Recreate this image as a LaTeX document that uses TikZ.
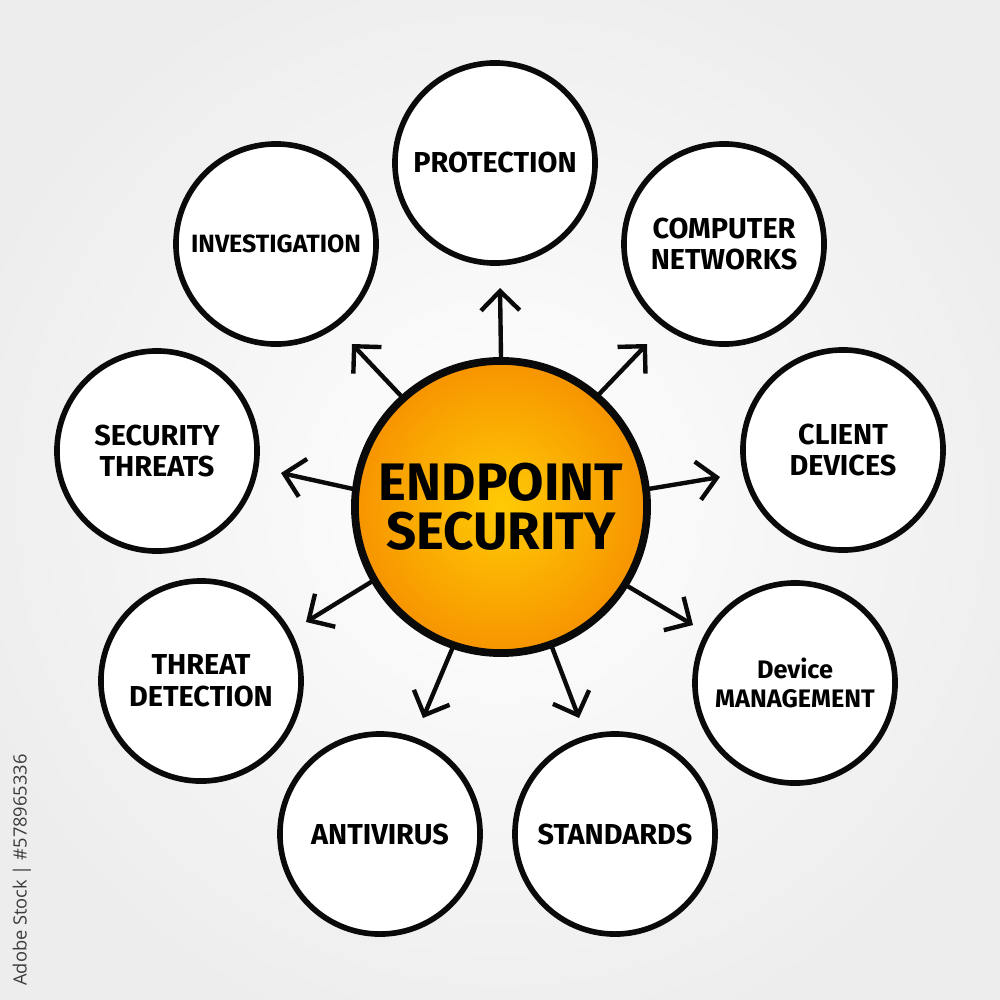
\documentclass[tikz,border=0pt]{standalone}
\usepackage{fontspec}
\setmainfont{Fira Sans}
\newfontfamily\wmfont{Open Sans}
\usetikzlibrary{arrows.meta}
\definecolor{ringcol}{HTML}{0A0A0A}
\definecolor{coreY}{HTML}{FFCB05}
\definecolor{coreO}{HTML}{F79400}
\definecolor{wmgray}{HTML}{3C3C3C}
\tikzset{
  outerbox/.style={circle, draw=ringcol, line width=1.6pt, fill=white, minimum size=2cm, inner sep=0pt,
    align=center, font=\fontsize{8.2}{9}\selectfont\bfseries},
  corebox/.style={circle, draw=ringcol, line width=2.2pt, minimum size=2.92cm, inner sep=0pt,
    align=center, inner color=coreY, outer color=coreO, font=\fontsize{15}{14}\selectfont\bfseries},
  arr/.style={draw=ringcol, line width=1.25pt, line cap=round, line join=round,
    -{Straight Barb[length=5.5pt,width=11pt,line width=1.25pt]}},
  wm/.style={font=\wmfont\fontsize{5.2}{6}\selectfont, text=wmgray, rotate=90}
}
\begin{document}
\begin{tikzpicture}[x=0.01cm,y=-0.01cm]
\useasboundingbox (0,0) rectangle (1000,1000);
\shade[inner color=white, outer color=black!7] (-60,-60) rectangle (1060,1060);

% center
\node[corebox] (core) at (501,507) {ENDPOINT\\SECURITY};

% outer nodes
\node[outerbox] (prot) at (495,163) {PROTECTION};
\node[outerbox, font=\fontsize{7.1}{8}\selectfont\bfseries] (inv)  at (276,244) {INVESTIGATION};
\node[outerbox] (net)  at (724,244) {COMPUTER\\NETWORKS};
\node[outerbox] (thr)  at (157,451) {SECURITY\\THREATS};
\node[outerbox] (cli)  at (843,450) {CLIENT\\DEVICES};
\node[outerbox] (det)  at (201,681) {THREAT\\DETECTION};
\node[outerbox, font=\fontsize{7.2}{8.4}\selectfont\bfseries] (dev) at (795,683) {Device\\MANAGEMENT};
\node[outerbox] (av)   at (380,834) {ANTIVIRUS};
\node[outerbox] (std)  at (615,834) {STANDARDS};

% arrow ends
\coordinate (eUp) at (500,288);
\coordinate (eUL) at (352,344);
\coordinate (eUR) at (647,344);
\coordinate (eL)  at (281,473);
\coordinate (eR)  at (720,477);
\coordinate (eLL) at (306,622);
\coordinate (eLR) at (693,625);
\coordinate (eDL) at (423,718);
\coordinate (eDR) at (579,718);

\draw[arr] (core.90) -- (eUp);
\draw[arr] (core.132) -- (eUL);
\draw[arr] (core.49) -- (eUR);
\draw[arr] (core.173) -- (eL);
\draw[arr] (core.7) -- (eR);
\draw[arr] (core.210) -- (eLL);
\draw[arr] (core.328) -- (eLR);
\draw[arr] (core.251) -- (eDL);
\draw[arr] (core.290) -- (eDR);

% stock label
\node[wm] (stocklbl) at (22,870) {Adobe Stock | \#578965336};
\end{tikzpicture}
\end{document}
